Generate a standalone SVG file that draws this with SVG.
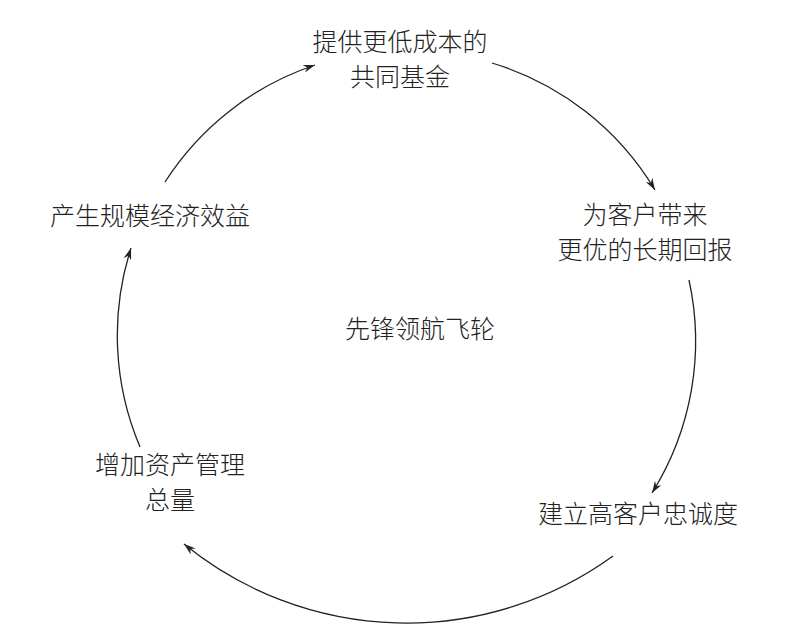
<svg xmlns="http://www.w3.org/2000/svg" width="800" height="630" viewBox="0 0 800 630">
<style>
text{font-family:"Noto Sans CJK SC","Liberation Sans",sans-serif;font-size:25px;font-weight:300;fill:#222;text-anchor:middle}
.c path{fill:none;stroke:#222;stroke-width:1.3;marker-end:url(#a)}
</style>
<defs><marker id="a" viewBox="0 0 12 8" refX="12" refY="4" markerWidth="12" markerHeight="8" markerUnits="userSpaceOnUse" orient="auto"><path d="M0,0L12,4L0,8L4,4Z" fill="#222"/></marker></defs>
<rect width="800" height="630" fill="#fff"/>
<g class="c" id="connectors">
<path d="M492,63A286,286 0 0 1 655,190"/>
<path d="M689,280A286,286 0 0 1 652,493"/>
<path d="M613,556A352,352 0 0 1 184,544"/>
<path d="M140,447A286,286 0 0 1 131,248"/>
<path d="M165,182A286,286 0 0 1 315,65"/>
</g>
<g id="n1"><text x="400" y="51">提供更低成本的</text><text x="400" y="86">共同基金</text></g>
<g id="n2"><text x="645" y="224">为客户带来</text><text x="645" y="259">更优的长期回报</text></g>
<g id="n3"><text x="638" y="523">建立高客户忠诚度</text></g>
<g id="n4"><text x="170" y="474">增加资产管理</text><text x="170" y="509">总量</text></g>
<g id="n5"><text x="150" y="225">产生规模经济效益</text></g>
<g id="center"><text x="420" y="338">先锋领航飞轮</text></g>
</svg>
